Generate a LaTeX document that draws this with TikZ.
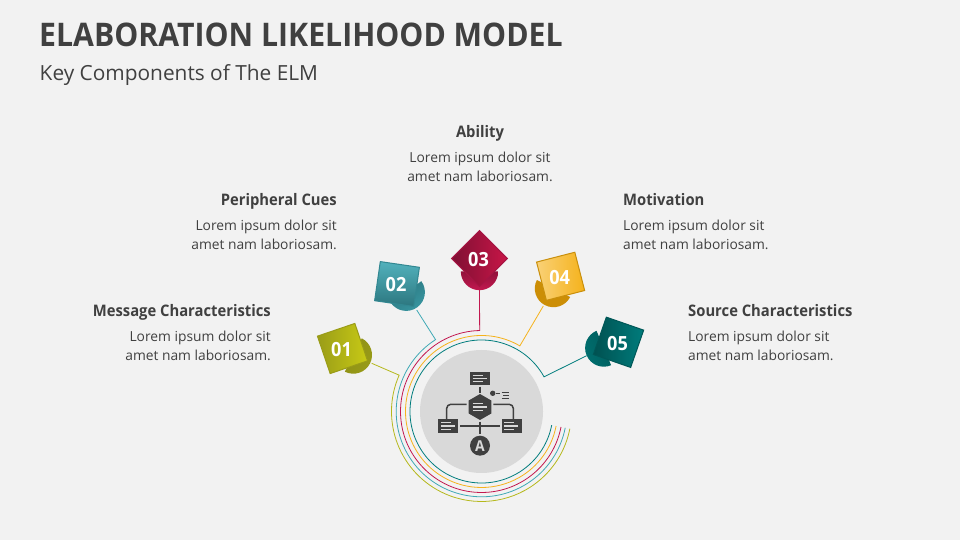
\documentclass[tikz,border=0pt]{standalone}
\usepackage{fontspec}
\setmainfont[BoldFeatures={FakeStretch=0.93}]{Open Sans}
\usetikzlibrary{shapes.geometric}
\definecolor{pagebg}{HTML}{F2F2F2}
\definecolor{inktext}{HTML}{404040}
\definecolor{hubgray}{HTML}{D9D9D9}
\definecolor{olivec}{HTML}{B5B81C}
\definecolor{cyanc}{HTML}{3FA9B5}
\definecolor{magc}{HTML}{C2184F}
\definecolor{ambc}{HTML}{F5B21B}
\definecolor{ambdark}{HTML}{CC8E06}
\definecolor{ambedge}{HTML}{C98F0C}
\definecolor{tealc}{HTML}{007C7C}
\tikzset{
  headtext/.style={font=\fontsize{15.9}{19}\selectfont\bfseries,text=inktext,inner sep=0pt},
  bodytext/.style={font=\fontsize{13.8}{19}\selectfont,text=inktext,inner sep=0pt},
  numtext/.style={font=\fontsize{19.5}{20}\selectfont\bfseries,text=white,inner sep=0pt},
  sqbox/.style={rectangle,minimum size=39.5pt,inner sep=0pt,line width=1pt},
  wire/.style={line width=0.8pt},
  iconbox/.style={rectangle,fill=inktext,minimum width=20pt,minimum height=13.4pt,inner sep=0pt},
  iconline/.style={draw=inktext,line width=1.5pt},
  barline/.style={draw=hubgray,line width=1.2pt}
}
\begin{document}
\begin{tikzpicture}[x=1pt,y=1pt]
  % Page
  \fill[pagebg] (0,0) rectangle (960,540);
  \useasboundingbox (0,0) rectangle (960,540);

  % Title
  \node[anchor=west,inner sep=0pt,text=inktext,font=\fontsize{32.5}{36}\selectfont\bfseries] (title) at (39,505.5) {ELABORATION LIKELIHOOD MODEL};
  \node[anchor=west,inner sep=0pt,text=inktext,font=\fontsize{20.85}{24}\selectfont] (subtitle) at (39.5,464.5) {Key Components of The ELM};

  % Hub
  \node[circle,fill=hubgray,minimum size=123pt,inner sep=0pt] (hub) at (481.5,128.5) {};

  % Half discs behind the squares
  \foreach \n/\cx/\cy/\ang/\dark/\lite in {
    1/353.3/185/-117/olivec!78!black/olivec!85!black,
    2/406.2/247.8/-144/cyanc!70!black/cyanc!90!black,
    3/479.5/268.5/180/magc!75!black/magc,
    4/553.5/251.5/153/ambdark/ambdark,
    5/603.8/192/113/tealc!75!black/tealc!90!black}
    \shade[left color=\lite,right color=\dark,shading angle=\ang] (\cx,\cy) ++(\ang:18.7pt) arc[start angle=\ang,delta angle=180,radius=18.7pt] -- cycle;

  % Free ends of the connectors on the discs
  \coordinate (tail1) at (371.7,176.7);
  \coordinate (tail2) at (416.7,230);
  \coordinate (tail3) at (479.5,250);
  \coordinate (tail4) at (543.3,234);
  \coordinate (tail5) at (586.7,184.3);

  % Rings with their connectors
  \foreach \n/\col/\ang/\rad in {
    1/olivec/156.2/90,
    2/cyanc/122.6/85.3,
    3/magc/91.3/81,
    4/ambc/59.7/76,
    5/tealc/29/71.5}{
    \coordinate (joint\n) at ([shift={(\ang:\rad pt)}]hub.center);
    \draw[wire,\col] (tail\n) -- (joint\n) arc[start angle=\ang,end angle=349,radius=\rad pt];
  }

  % Squares
  \node[sqbox,rotate=18.8,draw=olivec!85!black,left color=olivec!85!black,right color=olivec!75!yellow] (sq1) at (342.5,191.5) {};
  \node[sqbox,rotate=-8.3,draw=cyanc!80!black,top color=cyanc!90!white,bottom color=cyanc!70!black] (sq2) at (397,256) {};
  \node[sqbox,rotate=45,draw=magc!85!black,left color=magc!65!black,right color=magc!90!red] (sq3) at (479.5,281.5) {};
  \node[sqbox,rotate=14.4,draw=ambedge,left color=ambc!60!white,right color=ambc] (sq4) at (560.6,263.7) {};
  \node[sqbox,rotate=-19.2,draw=tealc!70!black,left color=tealc!65!black,right color=tealc] (sq5) at (618.5,197.7) {};

  % Numbers
  \foreach \n/\lab in {1/01,2/02,3/03,4/04,5/05}
    \node[numtext,xshift=-1pt,yshift=-1pt] (num\n) at (sq\n) {\lab};

  % Labels
  \node[headtext,anchor=base east] (head1) at (271,223) {Message Characteristics};
  \node[bodytext,align=right,anchor=south east] (body1) at (271,179) {Lorem ipsum dolor sit\\amet nam laboriosam.};
  \node[headtext,anchor=base east] (head2) at (337,334) {Peripheral Cues};
  \node[bodytext,align=right,anchor=south east] (body2) at (337,290) {Lorem ipsum dolor sit\\amet nam laboriosam.};
  \node[headtext,anchor=base] (head3) at (480,402) {Ability};
  \node[bodytext,align=center,anchor=south] (body3) at (480,358) {Lorem ipsum dolor sit\\amet nam laboriosam.};
  \node[headtext,anchor=base west] (head4) at (623,334) {Motivation};
  \node[bodytext,align=left,anchor=south west] (body4) at (623,290) {Lorem ipsum dolor sit\\amet nam laboriosam.};
  \node[headtext,anchor=base west] (head5) at (688,223) {Source Characteristics};
  \node[bodytext,align=left,anchor=south west] (body5) at (688,179) {Lorem ipsum dolor sit\\amet nam laboriosam.};

  % Icon in the hub
  \node[iconbox] (boxtop) at (480,161.3) {};
  \node[iconbox] (boxleft) at (448.3,114) {};
  \node[iconbox] (boxright) at (511.7,114) {};
  \node[regular polygon,regular polygon sides=6,shape border rotate=30,fill=inktext,minimum size=26pt,inner sep=0pt] (hex) at (480,133) {};
  \node[circle,fill=inktext,minimum size=20pt,inner sep=0pt,text=hubgray,font=\fontsize{15}{15}\selectfont\bfseries] (badge) at (480,94.3) {A};
  \node[circle,fill=inktext,minimum size=5.4pt,inner sep=0pt] (pin) at (492.7,146.7) {};
  \coordinate (pinend) at (500,146.7);

  \foreach \b in {boxtop,boxleft,boxright,hex}{
    \draw[barline] ([shift={(-7.5pt,3.2pt)}]\b.center) -- ++(10pt,0);
    \draw[barline] ([shift={(-7.5pt,0pt)}]\b.center) -- ++(14pt,0);
    \draw[barline] ([shift={(-7.5pt,-3.2pt)}]\b.center) -- ++(10pt,0);
  }

  \draw[iconline,shorten <=1pt,shorten >=1pt] (boxtop) -- (hex);
  \draw[iconline,shorten <=1.5pt,shorten >=1.5pt] (hex) -- (badge);
  \draw[iconline,shorten <=1.5pt,shorten >=1.5pt] (boxleft) -- (boxright);
  \draw[iconline,rounded corners=4pt,shorten <=2pt] (hex.167) -| ([xshift=-1.6pt]boxleft.north);
  \draw[iconline,rounded corners=4pt,shorten <=2pt] (hex.13) -| ([xshift=1.6pt]boxright.north);
  \draw[iconline] (pin) -- (pinend);
  \draw[iconline,line width=0.9pt] (501.7,147.7) -- ++(7.6,0) (503,144.7) -- ++(6.3,0) (501.7,141.3) -- ++(7.6,0);
\end{tikzpicture}
\end{document}
